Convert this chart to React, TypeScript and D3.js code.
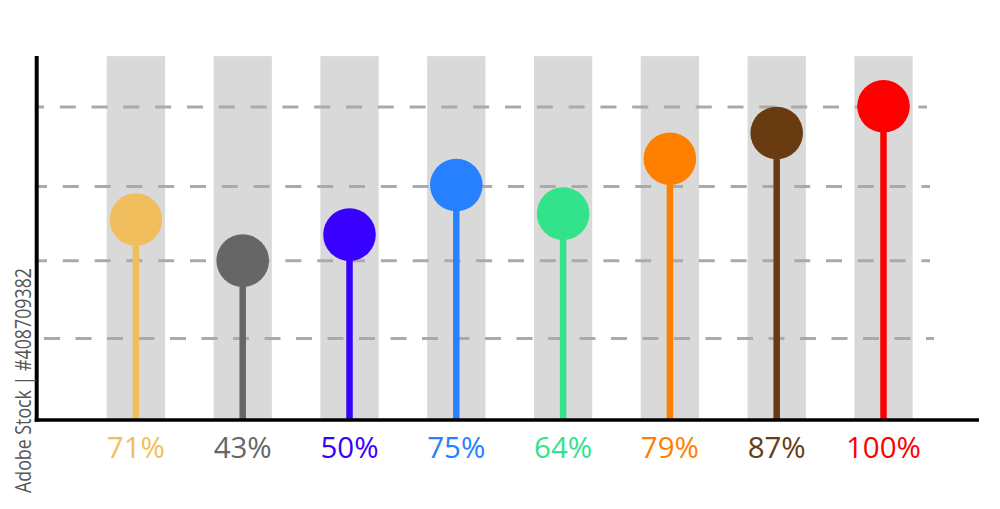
import React from "react";
import * as d3 from "d3";

const categories = ["A", "B", "C", "D", "E", "F", "G", "H"];
const labels = ["71%", "43%", "50%", "75%", "64%", "79%", "87%", "100%"];
// stem heights as drawn in the picture (red = 100)
const heights = [63.9, 50.8, 59.1, 74.9, 65.8, 83.3, 91.5, 100];
const colors = ["#F0BE5C", "#666666", "#3700FF", "#2680FF", "#33E38C", "#FF8000", "#683C10", "#FF0000"];
const gridValues = [26, 50.8, 74.4, 99.8];
const gridEnds = [934, 930, 930, 927];
const gridOffsets = [0, 7, 7, 10];
const gridStarts = [44, 38, 38, 38];
const gridDashes = ["16 15.5", "16 15.8", "16 15.8", "16 15.8"];
const columnTop = 116;

const W = 1000;
const H = 509;

export default function App() {
  const x = d3
    .scaleBand<string>()
    .domain(categories)
    .range([82.5, 936.9])
    .paddingInner(0.454)
    .paddingOuter(0.227);
  const y = d3.scaleLinear().domain([0, 100]).range([420, 106.3]);
  const bw = x.bandwidth();

  return (
    <svg
      width={W}
      height={H}
      style={{ position: "absolute", left: 0, top: 0, background: "#fff" }}
      fontFamily="'Open Sans', sans-serif"
    >
      <rect x={0} y={0} width={W} height={H} fill="#ffffff" />
      {categories.map((c) => (
        <rect key={c} x={x(c)} y={y(columnTop)} width={bw} height={y(0) - y(columnTop)} fill="#D9D9D9" />
      ))}
      {gridValues.map((v, i) => (
        <line
          key={i}
          x1={gridStarts[i]}
          x2={gridEnds[i]}
          y1={y(v)}
          y2={y(v)}
          stroke="#AAAAAA"
          strokeWidth={3}
          strokeDasharray={gridDashes[i]}
          strokeDashoffset={gridOffsets[i]}
        />
      ))}
      {categories.map((c, i) => {
        const cx = (x(c) as number) + bw / 2;
        return (
          <g key={c}>
            <line x1={cx} x2={cx} y1={y(heights[i])} y2={y(0)} stroke={colors[i]} strokeWidth={6.5} />
            <circle cx={cx} cy={y(heights[i])} r={26.3} fill={colors[i]} />
            <text x={cx} y={458} textAnchor="middle" fontSize={29.5} fill={colors[i]}>
              {labels[i]}
            </text>
          </g>
        );
      })}
      <line x1={36.7} x2={36.7} y1={56} y2={421.7} stroke="#000" strokeWidth={4} />
      <line x1={34.7} x2={979} y1={420} y2={420} stroke="#000" strokeWidth={3.5} />
      <text
        transform="translate(31,493) rotate(-90)"
        fontSize={21}
        fill="#555555"
        textAnchor="start"
        textLength={225}
        lengthAdjust="spacingAndGlyphs"
      >
        Adobe Stock | #408709382
      </text>
    </svg>
  );
}
